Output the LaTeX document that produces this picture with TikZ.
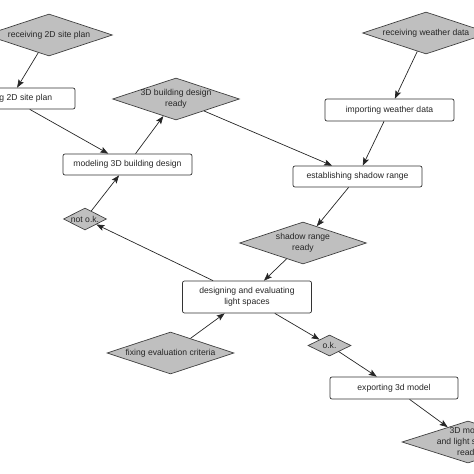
\documentclass[tikz,border=0pt]{standalone}
\usepackage{fontspec}
\setmainfont{Liberation Sans}
\usetikzlibrary{shapes.geometric, arrows.meta}
\tikzstyle{block} = [rectangle, rounded corners=2pt, draw=black!80, line width=0.7pt, fill=white, minimum width=129pt, minimum height=21pt, inner sep=0pt, align=center, text=black!85]
\tikzstyle{decision} = [diamond, draw=black!75, line width=0.7pt, fill=black!25, minimum width=127pt, minimum height=42pt, inner sep=0pt]
\tikzstyle{small decision} = [decision, minimum width=43pt, minimum height=22pt]
\tikzstyle{every label} = [align=center, text=black!85]
\tikzstyle{arrow} = [line width=0.7pt, draw=black!85, -{Stealth[length=8pt, width=6pt, inset=1.5pt]}]

\begin{document}
\begin{tikzpicture}[x=1pt, y=-1pt, font=\fontsize{8.6}{11}\selectfont]
	\useasboundingbox (0,0) rectangle (474,474);
	\clip (0,0) rectangle (474,474);
	% site plan branch
	\node (ReceivingSitePlan) [decision, label={center:receiving 2D site plan}] at (49,35) {};
	\node (ImportingSitePlan) [block] at (10.5,98.5) {importing 2D site plan};
	\node (Modeling) [block] at (127.5,164.5) {modeling 3D building design};
	\node (BuildingReady) [decision, label={center:3D building design\\ready}] at (176,99) {};
	% weather branch
	\node (ReceivingWeather) [decision, label={center:receiving weather data}] at (426,33) {};
	\node (ImportingWeather) [block, minimum height=22pt] at (389.5,110) {importing weather data};
	\node (Shadow) [block] at (357.5,176.5) {establishing shadow range};
	\node (ShadowReady) [decision, label={center:shadow range\\ready}] at (303,243) {};
	% evaluation
	\node (Designing) [block, minimum height=32pt] at (247,297) {designing and evaluating\\light spaces};
	\node (NotOk) [small decision, label={center:not o.k.}] at (85,219) {};
	\node (Fixing) [decision, label={center:fixing evaluation criteria}] at (170.5,353) {};
	\node (Ok) [small decision, minimum height=21pt, label={center:o.k.}] at (329.5,345.5) {};
	\node (Exporting) [block, minimum width=128pt, minimum height=22pt] at (394,388) {exporting 3d model};
	\node (ModelReady) [decision, minimum width=132pt, label={center:3D model\\and light spaces\\ready}] at (468,442) {};
	\draw [arrow] (ReceivingSitePlan) -- (ImportingSitePlan);
	\draw [arrow] (ImportingSitePlan) -- (Modeling);
	\draw [arrow] (Modeling) -- (BuildingReady);
	\draw [arrow] (BuildingReady) -- (Shadow);
	\draw [arrow] (ReceivingWeather) -- (ImportingWeather);
	\draw [arrow] (ImportingWeather) -- (Shadow);
	\draw [arrow] (Shadow) -- (ShadowReady);
	\draw [arrow] (ShadowReady) -- (Designing);
	\draw [arrow] (Designing) -- (NotOk);
	\draw [arrow] (NotOk) -- (Modeling);
	\draw [arrow] (Fixing) -- (Designing);
	\draw [arrow] (Designing) -- (Ok);
	\draw [arrow] (Ok) -- (Exporting);
	\draw [arrow] (Exporting) -- (ModelReady);
\end{tikzpicture}
\end{document}
